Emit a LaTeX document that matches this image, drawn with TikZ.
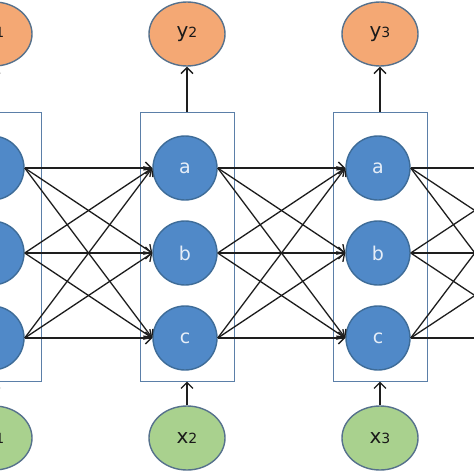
\documentclass[tikz,border=0pt]{standalone}
\usepackage{fontspec}
\setmainfont{DejaVu Sans}
\usetikzlibrary{arrows.meta,shapes.geometric}
\definecolor{nodeblue}{HTML}{5089C8}
\definecolor{nodeblueb}{HTML}{3E6C98}
\definecolor{outorange}{HTML}{F4A874}
\definecolor{ingreen}{HTML}{A9D18E}
\definecolor{ellborder}{HTML}{56718C}
\definecolor{boxline}{HTML}{5B7FA8}
\definecolor{wirec}{HTML}{1E1E1E}
\definecolor{labelc}{HTML}{1A1A1A}
\definecolor{unitlabel}{HTML}{E6EEF8}
\newcommand\lsub[1]{{\fontsize{14}{14}\selectfont #1}}
\begin{document}
\begin{tikzpicture}[x=1pt,y=-1pt,
  unit/.style={circle, fill=nodeblue, draw=nodeblueb, line width=1.4pt,
    minimum size=64pt, inner sep=0pt, text=unitlabel,
    font=\fontsize{19}{19}\selectfont},
  outell/.style={ellipse, fill=outorange, draw=ellborder, line width=1.4pt,
    minimum width=76pt, minimum height=64pt, inner sep=0pt, text=labelc,
    font=\fontsize{20}{20}\selectfont},
  inell/.style={ellipse, fill=ingreen, draw=ellborder, line width=1.4pt,
    minimum width=76pt, minimum height=64pt, inner sep=0pt, text=labelc,
    font=\fontsize{20}{20}\selectfont},
  layerbox/.style={rectangle, draw=boxline, line width=1pt,
    minimum width=94pt, minimum height=269pt, inner sep=0pt},
  wire/.style={draw=wirec, line width=1.3pt,
    -{Straight Barb[length=6pt,width=12pt,line width=1.3pt]}}]
\useasboundingbox (0,0) rectangle (474,474);
\clip (0,0) rectangle (474,474);
\foreach \i/\X in {1/-8,2/185,3/378} {
  \node[layerbox] (L\i) at (\X+2,246.5) {};
  \node[unit] (a\i) at (\X,168) {a};
  \node[unit] (b\i) at (\X,253) {b};
  \node[unit] (c\i) at (\X,338) {c};
  \node[outell] (y\i) at (\X+2,34) {y\lsub{\i}};
  \node[inell] (x\i) at (\X+2,438) {x\lsub{\i}};
}
\coordinate (a4) at (539,168);
\coordinate (b4) at (539,253);
\coordinate (c4) at (539,338);
\foreach \i/\j in {1/2,2/3}
  \foreach \s in {a,b,c}
    \foreach \t in {a,b,c}
      \draw[wire] (\s\i.east) -- (\t\j.west);
\foreach \s in {a,b,c}
  \foreach \t in {a,b,c}
    \draw[wire] (\s3.east) -- (\t4);
\foreach \i in {1,2,3} {
  \draw[wire] (L\i.north) -- (y\i.south);
  \draw[wire] (x\i.north) -- (L\i.south);
}
\end{tikzpicture}
\end{document}
